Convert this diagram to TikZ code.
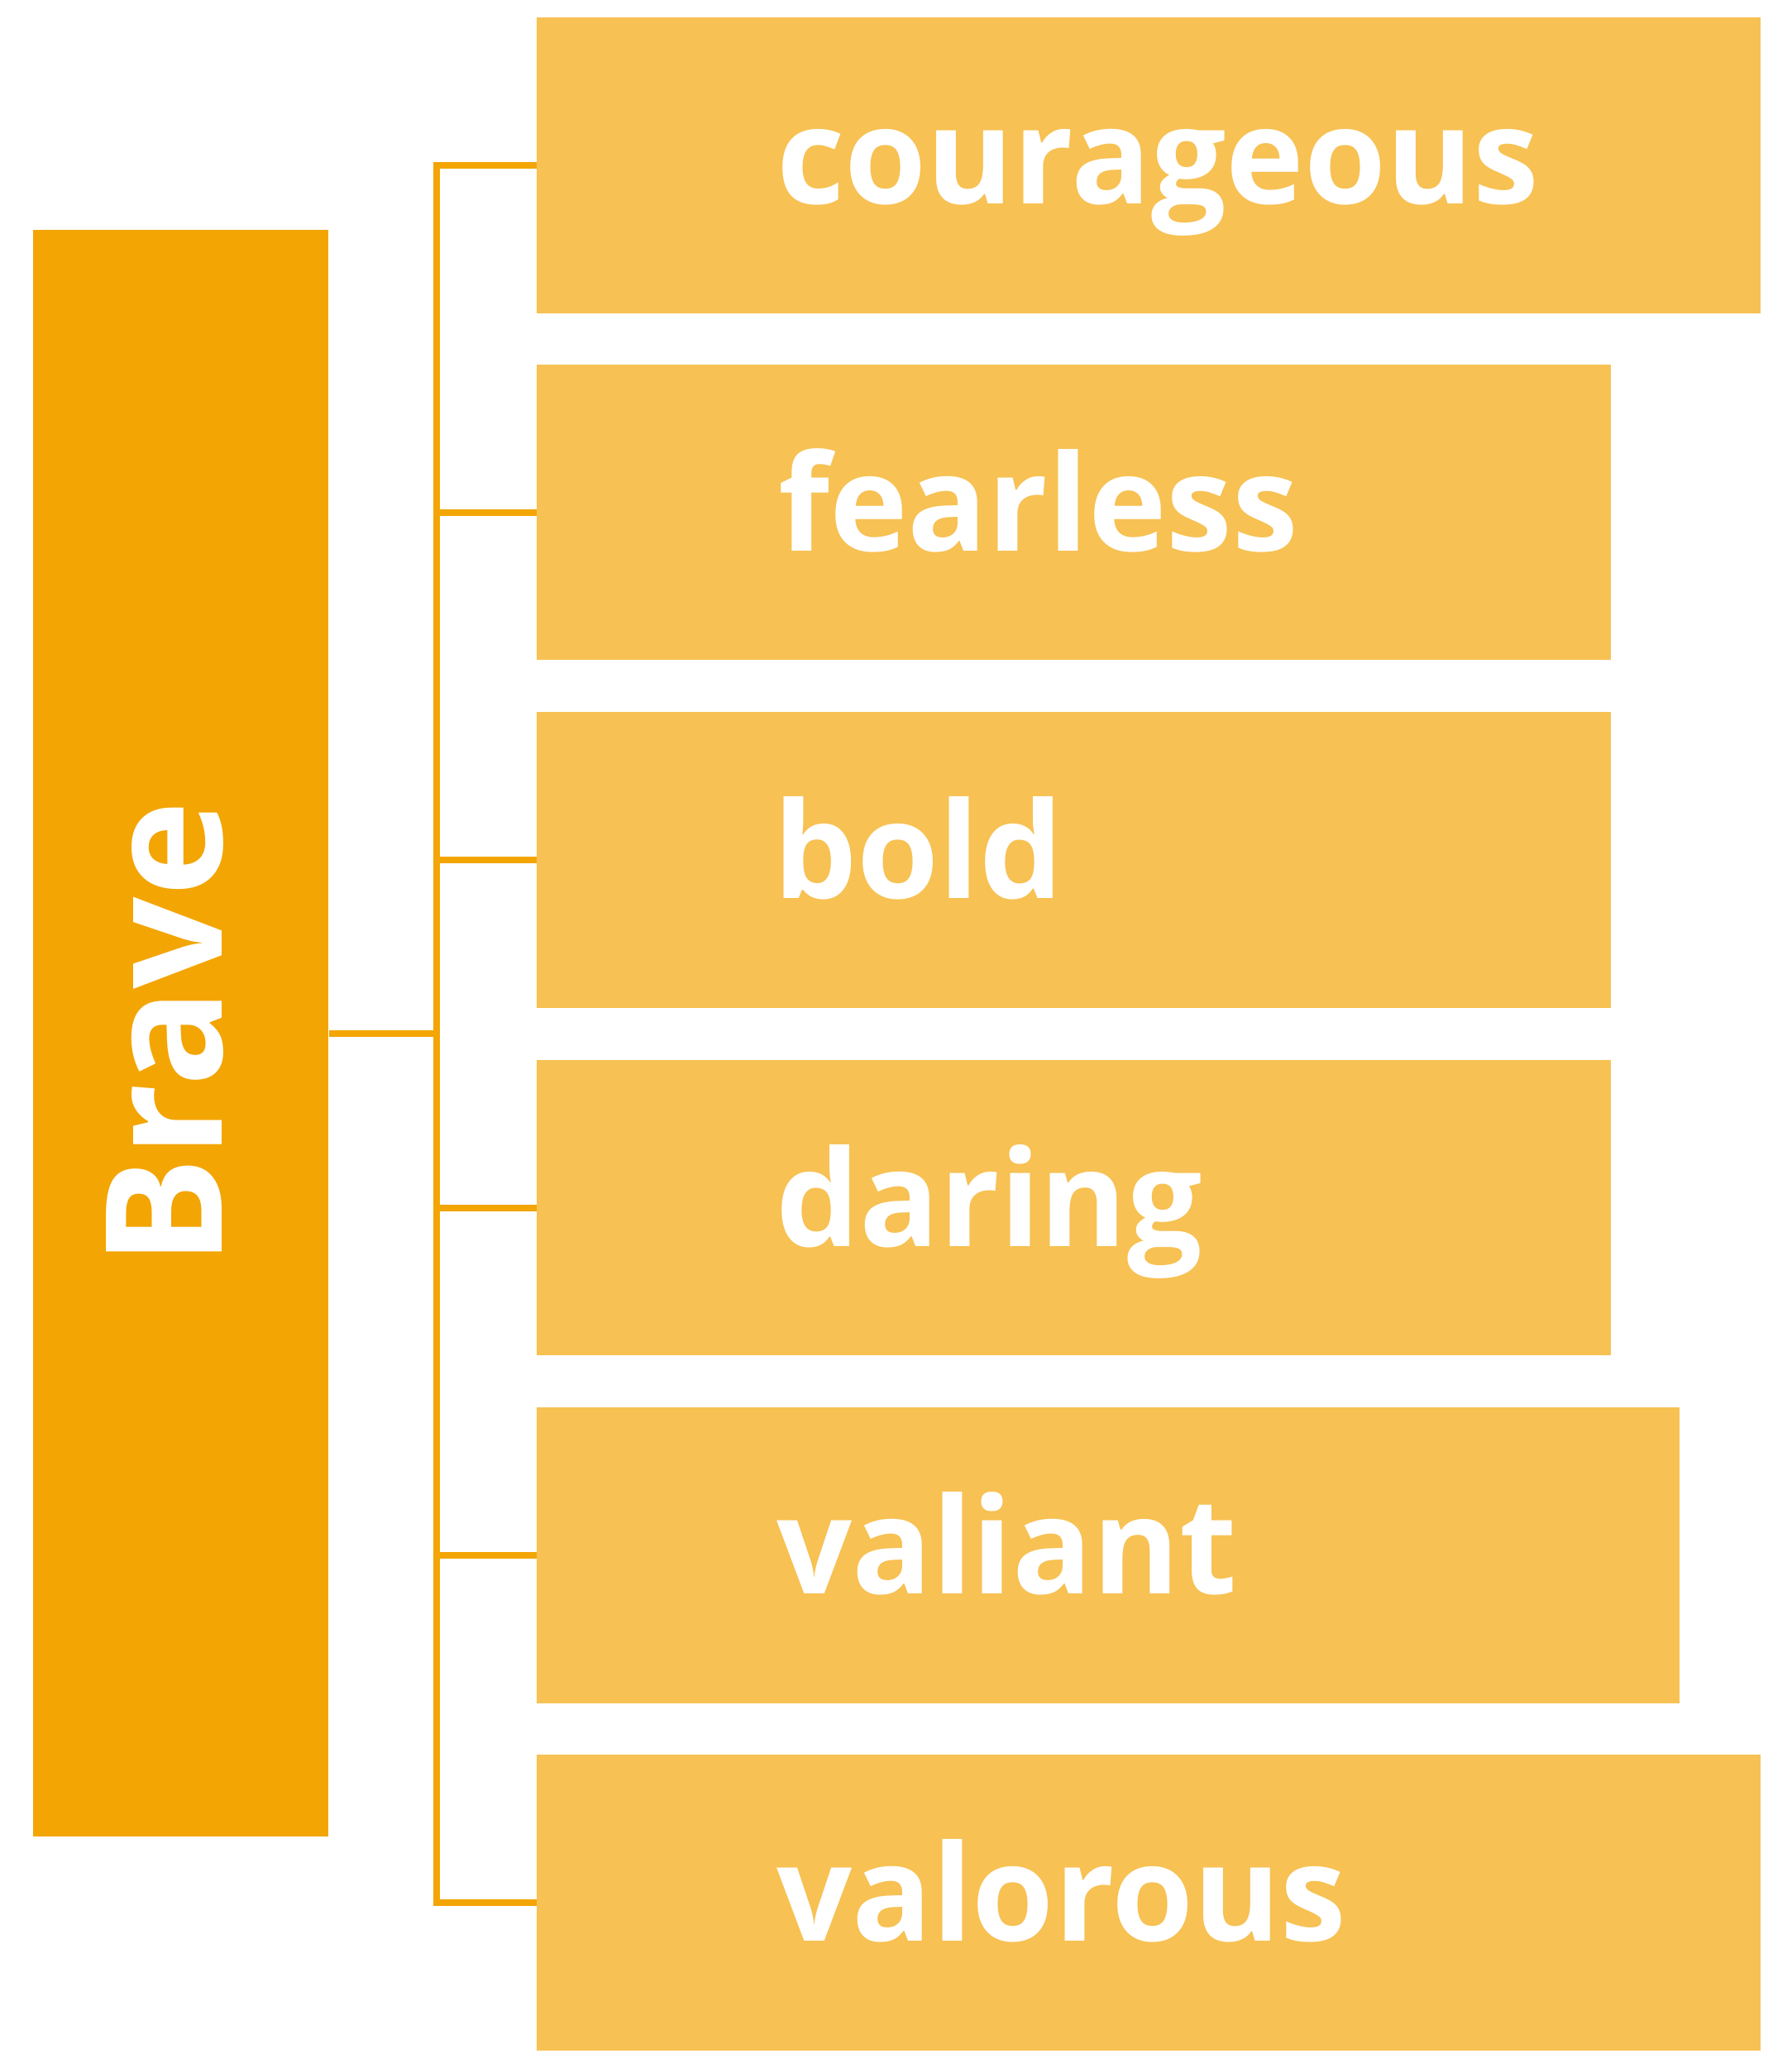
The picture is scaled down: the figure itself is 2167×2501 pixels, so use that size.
\documentclass[tikz,border=0pt]{standalone}
\usepackage{fontspec}
\setmainfont{Open Sans}
\newfontfamily\lblfont{Open Sans}[FakeStretch=0.988]
\usetikzlibrary{calc}
\definecolor{braveor}{HTML}{F3A504}
\definecolor{lightor}{HTML}{F7C153}
\tikzset{
  wbox/.style={fill=lightor, draw=none, inner sep=0pt, anchor=north west, minimum height=178.75pt},
  bbox/.style={fill=braveor, draw=none, inner sep=0pt, anchor=north west, minimum width=178.5pt, minimum height=971.7pt},
  lbl/.style={anchor=base west, text=white, font=\lblfont\fontsize{81pt}{81pt}\selectfont\bfseries, inner sep=0pt},
  conn/.style={draw=braveor, line width=4pt},
}
\begin{document}
\begin{tikzpicture}[x=0.5pt, y=-0.5pt]
\useasboundingbox (0,0) rectangle (2167,2501);
\node[bbox] (brave) at (40,277.6) {};
\node[wbox, minimum width=740pt] (c1) at (649,20.7) {};
\node[wbox, minimum width=649.5pt] (c2) at (649,440.5) {};
\node[wbox, minimum width=649.5pt] (c3) at (649,861) {};
\node[wbox, minimum width=649.5pt] (c4) at (649,1281.5) {};
\node[wbox, minimum width=691pt] (c5) at (649,1702) {};
\node[wbox, minimum width=740pt] (c6) at (649,2122) {};
\node[anchor=base, rotate=90, text=white, font=\fontsize{98pt}{98pt}\selectfont\bfseries, inner sep=0pt] (bravet) at ($(brave.center)+(49.5,0.5)$) {Brave};
\node[lbl] (t1) at ($(c1.west)+(290,46.6)$) {courageous};
\node[lbl] (t2) at ($(c2.west)+(292,46.6)$) {fearless};
\node[lbl] (t3) at ($(c3.west)+(286,46.6)$) {bold};
\node[lbl] (t4) at ($(c4.west)+(289,46.6)$) {daring};
\node[lbl] (t5) at ($(c5.west)+(290,46.6)$) {valiant};
\node[lbl] (t6) at ($(c6.west)+(290,46.6)$) {valorous};
\coordinate (spine) at (528,0);
\draw[conn] (c1.west) -- (spine |- c1.west) -- (spine |- c6.west) -- (c6.west);
\draw[conn] (spine |- c2.west) -- (c2.west);
\draw[conn] (spine |- c3.west) -- (c3.west);
\draw[conn] (spine |- c4.west) -- (c4.west);
\draw[conn] (spine |- c5.west) -- (c5.west);
\draw[conn] (brave.east) -- (spine |- brave.east);
\end{tikzpicture}
\end{document}
